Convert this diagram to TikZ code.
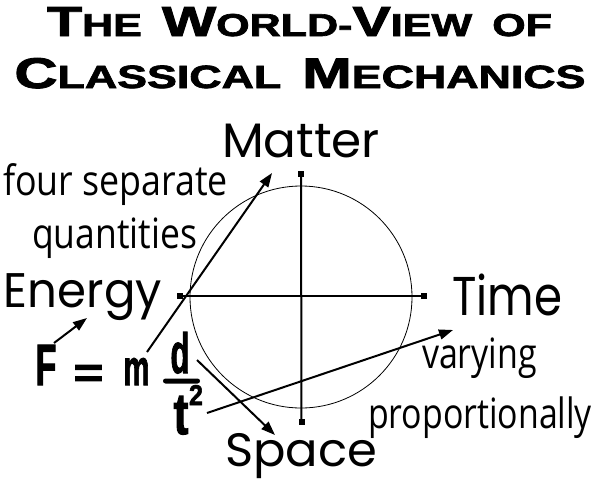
\documentclass[tikz,border=0pt]{standalone}
\usepackage{fontspec}
\usepackage{graphicx}
\usetikzlibrary{arrows.meta}
\newfontfamily\titlefont{Liberation Sans}[BoldFeatures={FakeBold=2}]
\newfontfamily\labelfont{Poppins}
\newfontfamily\handfont{Open Sans}
\newfontfamily\formfont{Liberation Sans}[BoldFeatures={FakeBold=2}]
\newcommand{\myfit}[4]{\resizebox{#1}{#2}{\smash{#4}\vphantom{#3}}}
\newcommand{\tsc}[2]{{\fontsize{40pt}{40pt}\selectfont #1}{\fontsize{30pt}{30pt}\selectfont #2}}
\newcommand{\tss}[1]{{\fontsize{30pt}{30pt}\selectfont #1}}
\begin{document}
\begin{tikzpicture}[x=1pt,y=-1pt,
  txt/.style={inner sep=0pt, outer sep=0pt, anchor=base west},
  ctxt/.style={inner sep=0pt, outer sep=0pt, anchor=base},
  endsq/.style={rectangle, fill=black, draw=none, minimum size=6pt, inner sep=0pt, outer sep=0pt},
  axis/.style={line width=2pt},
  ring/.style={circle, draw, line width=0.8pt, minimum size=222pt, inner sep=0pt, outer sep=0pt},
  arr/.style={line width=2pt, -{Triangle[length=14pt,width=10pt]}},
  barbox/.style={rectangle, fill=black, rounded corners=2.5pt, minimum width=37pt, minimum height=5pt, inner sep=0pt}
]
\fill[white] (0,0) rectangle (599,482);
\useasboundingbox (0,0) rectangle (599,482);

% title
\node[ctxt] (title1) at (299.5,36) {\resizebox{505pt}{29pt}{\titlefont\bfseries
  \tsc{T}{HE}\hspace{14pt}\tsc{W}{ORLD-}\tsc{V}{IEW}\hspace{14pt}\tss{OF}}};
\node[ctxt] (title2) at (300,88) {\resizebox{571pt}{30pt}{\titlefont\bfseries
  \tsc{C}{LASSICAL}\hspace{14pt}\tsc{M}{ECHANICS}}};

% circle and axes
\node[ring] (orb) at (301,297) {};
\node[endsq] (nm) at (301,174) {};
\node[endsq] (nt) at (423.5,296) {};
\node[endsq] (ns) at (301.5,421.5) {};
\node[endsq] (ne) at (180,296) {};
\draw[axis] (ne.center) -- (nt.center);
\draw[axis] (nm.center) -- (ns.center);

% labels
\node[txt] (matter) at (222,157) {\myfit{158pt}{33pt}{M}{\labelfont Matter}};
\node[txt] (energy) at (4,307) {\myfit{158pt}{33pt}{E}{\labelfont Energy}};
\node[txt] (time) at (452,315) {\myfit{110pt}{37pt}{T}{\labelfont Time}};
\node[txt] (space) at (225,466) {\myfit{152pt}{33pt}{S}{\labelfont Space}};

% handwriting
\node[txt] (four) at (3,195) {\myfit{225pt}{18pt}{x}{\handfont four separate}};
\node[txt] (quant) at (32,248) {\myfit{165pt}{18pt}{x}{\handfont quantities}};
\node[txt] (vary) at (422,368) {\myfit{115pt}{18pt}{x}{\handfont varying}};
\node[txt] (prop) at (368,428) {\myfit{224pt}{18pt}{x}{\handfont proportionally}};

% formula
\node[ctxt] (fF) at (46,385) {\resizebox{21pt}{40pt}{\formfont\bfseries F}};
\node[ctxt] (fEq) at (88.5,387) {\resizebox{30pt}{22pt}{\formfont\bfseries =}};
\node[ctxt] (fm) at (136.5,385) {\resizebox{26pt}{27pt}{\formfont\bfseries m}};
\node[ctxt] (fd) at (180,373) {\resizebox{19pt}{41pt}{\formfont\bfseries d}};
\node[barbox] (fbar) at (181.5,381) {};
\node[ctxt] (ft) at (181,434) {\resizebox{15pt}{38pt}{\formfont\bfseries t}};
\node[ctxt] (f2) at (196,405) {\resizebox{14pt}{20pt}{\formfont\bfseries 2}};

% arrows
\coordinate (a1s) at (147,352);
\coordinate (a1e) at (272,173);
\coordinate (a2s) at (54,343);
\coordinate (a2e) at (87,318);
\coordinate (a3s) at (197,360);
\coordinate (a3e) at (275,435);
\coordinate (a4s) at (207,413);
\coordinate (a4e) at (453,330);
\draw[arr] (a1s) -- (a1e);
\draw[arr] (a2s) -- (a2e);
\draw[arr] (a3s) -- (a3e);
\draw[arr] (a4s) -- (a4e);
\end{tikzpicture}
\end{document}
